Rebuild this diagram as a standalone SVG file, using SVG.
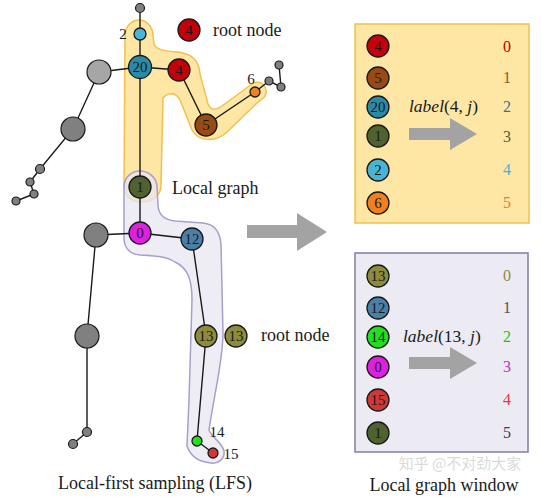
<svg xmlns="http://www.w3.org/2000/svg" width="541" height="498" viewBox="0 0 541 498">
<style>
text{font-family:"Liberation Serif","Times New Roman",serif;fill:#1a1a1a}
.n circle{stroke:#1a1a1a;stroke-width:1.3}
.n text{font-size:15px;text-anchor:middle}
.g{fill:#808080;stroke:#1a1a1a;stroke-width:1.2}
.e{stroke:#1a1a1a;stroke-width:1.4;fill:none}
.lbl{font-size:18px}
.num{font-size:16px;text-anchor:middle}
.big{font-size:18px}
.arr{fill:#a3a3a3}
</style>
<rect width="541" height="498" fill="#ffffff"/>
<!-- highlight regions -->
<g id="region-local-graph">
<path d="M125,36 C125,26 132,20 139,20 C146,20 153,26 153,36 L154,44 C156,50 165,51 178,52 C192,54 199,60 200,74 L208,104 C211,111 216,110 222,106 L252,84 C258,80 265,83 266,90 C267,96 263,99 258,102 L226,133 C216,142 198,142 192,130 L180,100 C176,92 168,92 163,98 L161,185 C161,196 152,202 142,202 C131,202 124,196 124,185 Z" fill="#fee6a4" stroke="#f0c050" stroke-width="1.5"/>
</g>
<g id="region-lavender">
<path d="M124,187 C124,178 131,171 140,171 C149,171 157,178 157,187 L158,206 C159,216 165,220 175,221 L203,223 C214,224 220,232 221,244 L223,333 C223,360 215,390 209,430 C212,438 222,442 224,451 C225,459 218,464 211,463 C200,462 191,458 187,446 L189,400 L192,300 C192,280 188,268 175,262 C168,257 160,256 140,255 C130,254 124,248 124,238 Z" fill="#e8e6f2" fill-opacity="0.75" stroke="#a99fc9" stroke-width="1.5"/>
</g>
<!-- connectors -->
<g id="connectors">
<polyline class="e" points="140,8 140,34 140,67 140,187 140,233"/>
<polyline class="e" points="99,72 140,67 179,70 206,125 255,92 269,81 281,87 279,65"/>
<polyline class="e" points="99,72 73,129 40,169 30,182 34,194 16,201"/>
<polyline class="e" points="140,233 96,235 87,336 87,432 73,444"/>
<polyline class="e" points="140,233 192,239 206,336 197,441 213,453"/>
</g>
<!-- gray skeleton joints -->
<g id="gray-joints">
<circle class="g" cx="140" cy="8" r="4.5"/>
<circle class="g" cx="99" cy="72" r="12" style="fill:#a6a6a6"/>
<circle class="g" cx="73" cy="129" r="12"/>
<circle class="g" cx="40" cy="169" r="4.5"/>
<circle class="g" cx="30" cy="182" r="4"/>
<circle class="g" cx="34" cy="194" r="4"/>
<circle class="g" cx="16" cy="201" r="4"/>
<circle class="g" cx="269" cy="81" r="4"/>
<circle class="g" cx="281" cy="87" r="4"/>
<circle class="g" cx="279" cy="65" r="4"/>
<circle class="g" cx="96" cy="235" r="12"/>
<circle class="g" cx="87" cy="336" r="12"/>
<circle class="g" cx="87" cy="432" r="4.5"/>
<circle class="g" cx="73" cy="444" r="4.5"/>
</g>
<!-- skeleton nodes -->
<g id="node-2" class="n"><circle cx="140" cy="34" r="6" fill="#4ab4d4"/><text x="123" y="39">2</text></g>
<g id="node-20" class="n"><circle cx="140" cy="67" r="11.5" fill="#2b8aa6"/><text x="140" y="72">20</text></g>
<g id="node-4" class="n"><circle cx="179" cy="70" r="11" fill="#c4000a"/><text x="179" y="75">4</text></g>
<g id="node-5" class="n"><circle cx="206" cy="125" r="11" fill="#9a4a14"/><text x="206" y="130">5</text></g>
<g id="node-6" class="n"><circle cx="255" cy="92" r="5" fill="#f08020"/><text x="251" y="84">6</text></g>
<g id="node-1" class="n"><circle cx="140" cy="187" r="11" fill="#4f6230"/><text x="140" y="192">1</text></g>
<g id="node-0" class="n"><circle cx="140" cy="233" r="11" fill="#e020e0"/><text x="140" y="238">0</text></g>
<g id="node-12" class="n"><circle cx="192" cy="239" r="11" fill="#4a80a8"/><text x="192" y="244">12</text></g>
<g id="node-13" class="n"><circle cx="206" cy="336" r="11" fill="#8c8c3c"/><text x="206" y="341">13</text></g>
<g id="node-14" class="n"><circle cx="197" cy="441" r="5" fill="#20e020"/><text x="217" y="437">14</text></g>
<g id="node-15" class="n"><circle cx="213" cy="453" r="5" fill="#d03838"/><text x="231" y="459">15</text></g>
<!-- legends -->
<g id="legend-root-4" class="n"><circle cx="189" cy="30" r="11" fill="#c4000a"/><text x="189" y="35">4</text><text x="213" y="36" style="text-anchor:start;font-size:18px">root node</text></g>
<g id="legend-root-13" class="n"><circle cx="236" cy="336" r="11" fill="#8c8c3c"/><text x="236" y="341">13</text><text x="261" y="341" style="text-anchor:start;font-size:18px">root node</text></g>
<text id="label-local-graph" class="lbl" x="172" y="194">Local graph</text>
<!-- middle arrow -->
<g id="main-arrow"><polygon class="arr" points="247,225 297,225 297,213 327,232 297,251 297,238 247,238"/></g>
<!-- top panel -->
<g id="panel-top">
<rect x="355" y="24" width="174" height="199" fill="#fee6a4" stroke="#f0c050" stroke-width="1.5"/>
<g class="n">
<circle cx="378" cy="46" r="11" fill="#c4000a"/><text x="378" y="51">4</text>
<circle cx="378" cy="78" r="11" fill="#9a4a14"/><text x="378" y="83">5</text>
<circle cx="378" cy="107" r="11" fill="#2b8aa6"/><text x="378" y="112">20</text>
<circle cx="378" cy="136" r="11" fill="#4f6230"/><text x="378" y="141">1</text>
<circle cx="378" cy="170" r="11" fill="#4ab4d4"/><text x="378" y="175">2</text>
<circle cx="378" cy="203" r="11" fill="#f08020"/><text x="378" y="208">6</text>
</g>
<text class="num" x="507" y="52" style="fill:#c00000">0</text>
<text class="num" x="507" y="83" style="fill:#8b5a2b">1</text>
<text class="num" x="507" y="112" style="fill:#2e7a8a">2</text>
<text class="num" x="507" y="142" style="fill:#5a5a30">3</text>
<text class="num" x="507" y="175" style="fill:#4ab0d0">4</text>
<text class="num" x="507" y="208" style="fill:#e08030">5</text>
<text class="lbl" x="409" y="112" style="font-size:17.5px"><tspan font-style="italic">label</tspan>(4, <tspan font-style="italic">j</tspan>)</text>
<polygon class="arr" points="409,128 450,128 450,118 477,134 450,150 450,140 409,140"/>
</g>
<!-- bottom panel -->
<g id="panel-bottom">
<rect x="355" y="253" width="173" height="199" fill="#eceaf2" stroke="#8878a8" stroke-width="1.5"/>
<g class="n">
<circle cx="378" cy="276" r="11" fill="#8c8c3c"/><text x="378" y="281">13</text>
<circle cx="378" cy="308" r="11" fill="#4a80a8"/><text x="378" y="313">12</text>
<circle cx="378" cy="337" r="11" fill="#20e020"/><text x="378" y="342">14</text>
<circle cx="378" cy="367" r="11" fill="#e020e0"/><text x="378" y="372">0</text>
<circle cx="378" cy="400" r="11" fill="#d03838"/><text x="378" y="405">15</text>
<circle cx="378" cy="433" r="11" fill="#4f6230"/><text x="378" y="438">1</text>
</g>
<text class="num" x="507" y="281" style="fill:#8c8c3c">0</text>
<text class="num" x="507" y="313" style="fill:#555555">1</text>
<text class="num" x="507" y="342" style="fill:#20c020">2</text>
<text class="num" x="507" y="372" style="fill:#c030c0">3</text>
<text class="num" x="507" y="405" style="fill:#d04040">4</text>
<text class="num" x="507" y="438" style="fill:#404040">5</text>
<text class="lbl" x="403" y="342" style="font-size:17.5px"><tspan font-style="italic">label</tspan>(13, <tspan font-style="italic">j</tspan>)</text>
<polygon class="arr" points="409,357 450,357 450,347 477,363 450,379 450,369 409,369"/>
</g>
<!-- captions -->
<text id="caption-lfs" class="big" x="155" y="489" text-anchor="middle">Local-first sampling (LFS)</text>
<text id="caption-window" class="big" x="444" y="491" text-anchor="middle">Local graph window</text>
<text id="watermark" x="460" y="469" text-anchor="middle" style="font-family:'Noto Sans CJK SC',sans-serif;font-size:15px;fill:#d0d0d0;fill-opacity:0.8">知乎 @不对劲大家</text>
</svg>
